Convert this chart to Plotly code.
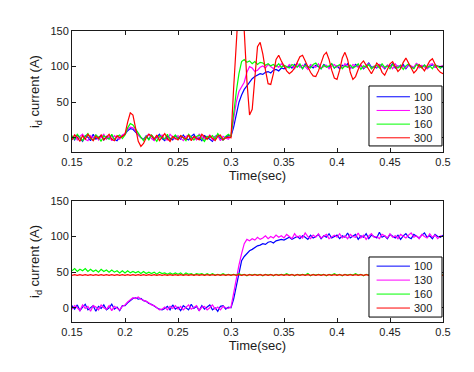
import numpy as np
import plotly.graph_objects as go
from plotly.subplots import make_subplots

# sample times (s)
time = np.round(np.linspace(0.15, 0.5, 141), 4)

series_names = ["100", "130", "160", "300"]
series_colors = ["#0000ff", "#ff00ff", "#00ff00", "#ff0000"]

# ---------- top panel values (A) ----------
top_100 = [2, -3, 4, -1, -5, 3, 1, -4, 5, -2, 0, 3, -3, 2, -1, 4, -2, -4, 1, 3,
           5, 10, 13, 12, 8, 3, 0, -2, 3, -2, 4, -3, 1, 5, -1, -4, 2, 0, -3, 3,
           1, -2, 4, -1, -3, 2, 5, -2, 0, -4, 3, 1, -2, -5, 2, 4, -1, -3, 1, 3,
           2, 15, 35, 50, 60, 68, 73, 79, 83, 86, 88, 90, 89, 92, 93, 91, 95, 96, 94, 98,
           97, 99, 101, 98, 103, 100, 102, 97, 104, 99, 101, 98, 102, 100, 97, 103, 101, 99, 104, 98,
           101, 97, 102, 100, 104, 99, 98, 103, 100, 102, 97, 101, 105, 99, 100, 98, 103, 101, 97, 102,
           100, 104, 98, 101, 99, 103, 97, 102, 100, 98, 104, 101, 99, 102, 97, 100, 103, 99, 101, 98,
           100]
top_130 = [-1, 4, -3, 2, 5, -2, -4, 3, 0, 4, -3, 1, 5, -2, 2, -4, 3, 0, -2, 4,
           6, 12, 15, 14, 10, 4, 0, -3, 2, 5, -1, -4, 3, 0, 4, -2, -3, 5, 1, -2,
           3, 0, -4, 2, 4, -1, 1, -3, 5, 2, -2, 0, 4, -3, 1, 3, -4, 2, 0, -2,
           3, 25, 50, 65, 72, 78, 92, 100, 98, 93, 95, 99, 101, 98, 103, 100, 97, 102, 99, 104,
           100, 98, 103, 101, 97, 105, 99, 102, 100, 96, 103, 101, 99, 104, 98, 100, 102, 97, 101, 103,
           99, 102, 98, 104, 100, 97, 103, 101, 99, 102, 98, 100, 104, 97, 101, 99, 103, 100, 98, 102,
           101, 97, 104, 99, 102, 100, 98, 103, 101, 99, 105, 98, 102, 100, 97, 103, 104, 99, 101, 100,
           102]
top_160 = [3, -2, 5, 0, -4, 2, 6, -1, -3, 4, 1, -5, 3, 0, -2, 5, -3, 2, 4, -1,
           4, 14, 20, 18, 12, 5, 1, -4, 2, -3, 4, 0, -5, 3, 1, -2, 5, -3, 0, 4,
           -2, 3, 0, -4, 5, 1, -3, 2, 4, -1, -5, 2, 0, 3, -2, 6, 1, -3, 2, 5,
           2, 35, 65, 90, 107, 110, 106, 108, 104, 107, 103, 106, 105, 102, 104, 101, 103, 100, 104, 99,
           102, 100, 98, 103, 101, 99, 104, 97, 102, 100, 98, 103, 105, 100, 97, 102, 99, 101, 104, 98,
           100, 103, 97, 101, 99, 102, 98, 100, 104, 96, 101, 99, 103, 97, 100, 102, 98, 104, 99, 101,
           97, 103, 100, 98, 102, 96, 101, 104, 99, 97, 103, 100, 98, 102, 99, 101, 97, 103, 100, 98,
           101]
top_300 = [-3, 4, 1, -5, 3, -2, 5, 0, -4, 2, -1, 4, -3, 1, 5, -2, -4, 3, 0, 2,
           5, 22, 35, 32, 15, -5, -12, -8, 0, 5, 3, -2, 4, -4, 1, 6, -1, -5, 2, 0,
           -3, 3, 1, -2, 4, -4, 2, 0, -3, 5, 1, -2, 3, -1, -4, 2, 4, -3, 0, 1,
           0, 70, 155, 195, 185, 150, 80, 32, 40, 82, 128, 134, 118, 95, 76, 75, 90, 110, 116, 108,
           100, 94, 90, 93, 98, 106, 114, 116, 108, 100, 92, 87, 86, 94, 105, 116, 120, 110, 95, 84,
           82, 95, 112, 120, 110, 92, 82, 86, 96, 104, 108, 102, 95, 90, 97, 105, 101, 92, 88, 96,
           104, 107, 100, 93, 97, 106, 112, 105, 96, 91, 95, 103, 99, 94, 101, 108, 111, 104, 96, 92,
           90]

# ---------- bottom panel values (A) ----------
bot_100 = [3, -2, 4, -4, 1, 5, -3, 0, 3, -5, 2, -1, 4, -3, 0, 5, -2, 1, -4, 3,
           3, 7, 10, 13, 14, 12, 13, 10, 9, 6, 5, 2, 0, -2, -3, -1, 2, -3, 4, -2,
           1, -4, 3, 0, -3, 5, -1, 2, -4, 3, -2, 1, 4, -3, 0, -5, 2, 3, -2, 1,
           0, 12, 30, 50, 66, 72, 76, 80, 82, 85, 87, 88, 90, 89, 92, 93, 91, 94, 95, 96,
           95, 97, 99, 96, 98, 100, 97, 101, 99, 96, 102, 98, 100, 103, 97, 101, 99, 104, 98, 100,
           102, 97, 101, 99, 105, 98, 100, 103, 96, 101, 99, 104, 97, 102, 100, 98, 106, 99, 101, 97,
           103, 100, 98, 102, 96, 101, 104, 99, 97, 103, 100, 98, 102, 105, 99, 101, 97, 103, 100, 99,
           102]
bot_130 = [-2, 3, 0, -4, 4, -1, 2, -5, 3, 1, -3, 4, 0, -2, 3, -4, 2, 0, -3, 2,
           4, 8, 11, 14, 13, 15, 12, 11, 9, 7, 4, 3, 0, -3, -2, 1, -3, 2, -1, 3,
           -2, 2, -3, 1, 4, -2, 0, 3, -4, 1, 2, -3, 0, 4, -2, 1, -3, 2, 0, -1,
           1, 22, 42, 60, 76, 90, 96, 94, 97, 95, 99, 96, 98, 101, 97, 100, 98, 102, 99, 101,
           98, 103, 100, 97, 104, 99, 101, 98, 105, 100, 97, 102, 99, 104, 98, 101, 103, 97, 100, 102,
           99, 104, 98, 101, 97, 103, 100, 99, 105, 98, 102, 96, 101, 104, 99, 100, 97, 103, 101, 98,
           104, 99, 101, 97, 103, 100, 98, 102, 105, 99, 101, 97, 103, 100, 98, 104, 99, 102, 97, 101,
           100]
bot_160 = [52, 55, 51, 54, 52, 55, 51, 54, 51, 53, 50, 54, 51, 53, 50, 53, 50, 52, 49, 52,
           49, 52, 49, 51, 49, 51, 48, 51, 48, 50, 48, 50, 47, 50, 48, 49, 47, 49, 47, 49,
           47, 49, 46, 49, 47, 48, 46, 48, 47, 48, 46, 48, 46, 48, 46, 47, 46, 48, 46, 47,
           46, 47, 46, 48, 46, 47, 45, 47, 46, 47, 46, 47, 45, 47, 46, 47, 45, 47, 46, 47,
           46, 48, 46, 47, 45, 47, 46, 47, 46, 48, 45, 47, 46, 47, 46, 47, 45, 47, 46, 48,
           46, 47, 45, 47, 46, 47, 46, 48, 46, 47, 45, 47, 46, 47, 46, 47, 45, 48, 46, 47,
           46, 47, 45, 47, 46, 48, 46, 47, 45, 47, 46, 47, 46, 47, 45, 47, 46, 48, 46, 47,
           46]
bot_300 = [45.5, 46.5, 45.5, 46.5, 45.5, 46.5, 45.5, 46.5, 45.5, 46.5, 45.5, 46.5, 45.5, 46.5, 45.5, 46.5, 45.5, 46.5, 45.5, 46.5,
           45.5, 46.5, 45.5, 46.5, 45.5, 46.5, 45.5, 46.5, 45.5, 46.5, 45.5, 46.5, 45.5, 46.5, 45.5, 46.5, 45.5, 46.5, 45.5, 46.5,
           45.5, 46.5, 45.5, 46.5, 45.5, 46.5, 45.5, 46.5, 45.5, 46.5, 45.5, 46.5, 45.5, 46.5, 45.5, 46.5, 45.5, 46.5, 45.5, 46.5,
           45.5, 46.5, 45.5, 46.5, 45.5, 46.5, 45.5, 46.5, 45.5, 46.5, 45.5, 46.5, 45.5, 46.5, 45.5, 46.5, 45.5, 46.5, 45.5, 46.5,
           45.5, 46.5, 45.5, 46.5, 45.5, 46.5, 45.5, 46.5, 45.5, 46.5, 45.5, 46.5, 45.5, 46.5, 45.5, 46.5, 45.5, 46.5, 45.5, 46.5,
           45.5, 46.5, 45.5, 46.5, 45.5, 46.5, 45.5, 46.5, 45.5, 46.5, 45.5, 46.5, 45.5, 46.5, 45.5, 46.5, 45.5, 46.5, 45.5, 46.5,
           45.5, 46.5, 45.5, 46.5, 45.5, 46.5, 45.5, 46.5, 45.5, 46.5, 45.5, 46.5, 45.5, 46.5, 45.5, 46.5, 45.5, 46.5, 45.5, 46.5,
           45.5]

x_ticks = [0.15, 0.2, 0.25, 0.3, 0.35, 0.4, 0.45, 0.5]
x_tick_labels = ["0.15", "0.2", "0.25", "0.3", "0.35", "0.4", "0.45", "0.5"]
y_ticks = [0, 50, 100, 150]

top_series = [top_100, top_130, top_160, top_300]
bot_series = [bot_100, bot_130, bot_160, bot_300]

FONT = "Liberation Sans, Arial, Helvetica, sans-serif"
AX = "#1a1a1a"

fig = make_subplots(rows=2, cols=1, vertical_spacing=0.168)

for name, col, ys in zip(series_names, series_colors, top_series):
    fig.add_trace(go.Scatter(x=time, y=ys, mode="lines", name=name, showlegend=False,
                             line=dict(color=col, width=1.2)),
                  row=1, col=1)
for name, col, ys in zip(series_names, series_colors, bot_series):
    fig.add_trace(go.Scatter(x=time, y=ys, mode="lines", name=name, showlegend=False,
                             line=dict(color=col, width=1.2)),
                  row=2, col=1)

axis_common = dict(showline=True, linecolor=AX, linewidth=1, mirror="ticks",
                   ticks="inside", ticklen=4, tickcolor=AX, showgrid=False,
                   zeroline=False, tickfont=dict(size=11, color=AX, family=FONT))
for r in (1, 2):
    fig.update_xaxes(range=[0.15, 0.5], tickvals=x_ticks, ticktext=x_tick_labels,
                     title=dict(text="Time(sec)", font=dict(size=13, color=AX, family=FONT), standoff=3),
                     row=r, col=1, **axis_common)
    fig.update_yaxes(range=[-20, 150], tickvals=y_ticks,
                     title=dict(text="i<sub>d</sub> current (A)", font=dict(size=13, color=AX, family=FONT), standoff=7),
                     row=r, col=1, **axis_common)

# ---- boxed legends drawn inside each panel (MATLAB style) ----
shapes = []
annotations = []
legend_boxes = [  # (x0, x1, y0, y1) in paper fractions, entry y positions
    (0.8005, 0.9973, 0.605, 0.811, [0.774, 0.727, 0.680, 0.633]),
    (0.8005, 0.9973, 0.017, 0.2234, [0.192, 0.144, 0.096, 0.048]),
]
for x0, x1, y0, y1, ys in legend_boxes:
    shapes.append(dict(type="rect", xref="paper", yref="paper", x0=x0, x1=x1, y0=y0, y1=y1,
                       line=dict(color="black", width=1), fillcolor="white", layer="above"))
    for name, col, yy in zip(series_names, series_colors, ys):
        shapes.append(dict(type="line", xref="paper", yref="paper", x0=0.821, x1=0.911,
                           y0=yy, y1=yy, line=dict(color=col, width=1), layer="above"))
        annotations.append(dict(text=name, xref="paper", yref="paper", x=0.975, y=yy,
                                xanchor="right", yanchor="middle", showarrow=False,
                                font=dict(size=11, color=AX, family=FONT)))

fig.update_layout(
    width=474, height=372,
    margin=dict(l=72, r=31, t=31, b=50),
    paper_bgcolor="white", plot_bgcolor="white",
    font=dict(family=FONT, color=AX),
    showlegend=False,
    shapes=shapes,
    annotations=annotations,
)
fig.update_yaxes(domain=[0.584, 1.0], row=1, col=1)
fig.update_yaxes(domain=[0.0, 0.416], row=2, col=1)

fig.write_html("out.html", config={"displayModeBar": False},
               post_script="document.body.style.margin='0';")
